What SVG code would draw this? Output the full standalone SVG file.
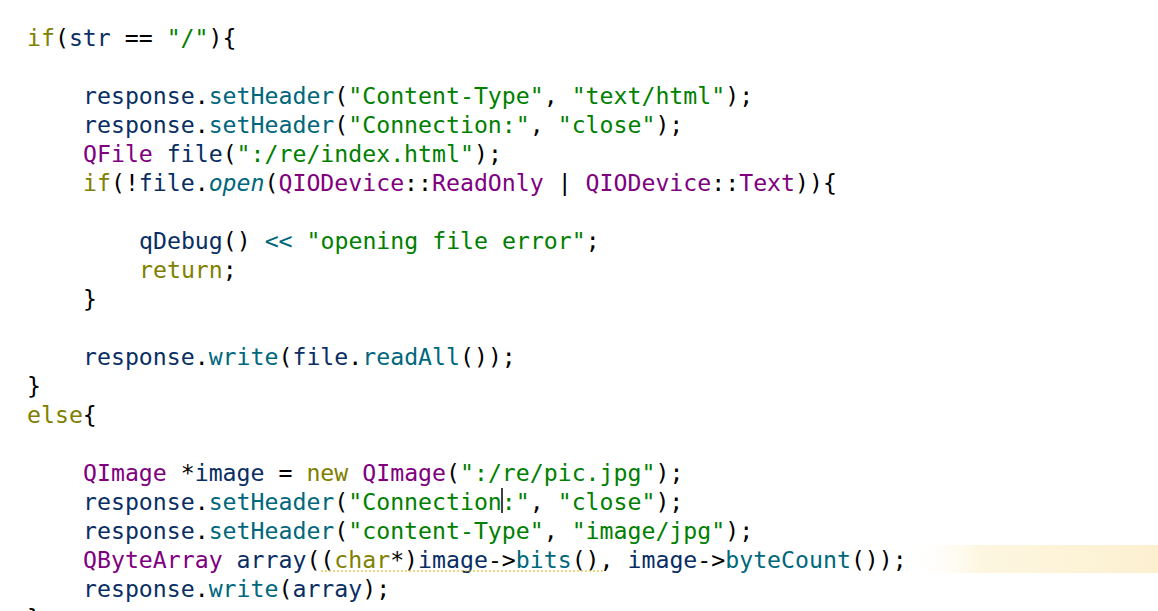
<svg xmlns="http://www.w3.org/2000/svg" width="1158" height="611" viewBox="0 0 1158 611">
<style>
text{font-family:"DejaVu Sans Mono","Liberation Mono",monospace;font-size:23.2px;fill:#000;white-space:pre}
.k{fill:#808000}.s{fill:#008000}.t{fill:#800080}.f{fill:#00677c}.v{fill:#092e64}.i{font-style:italic;fill:#00677c}
</style>
<defs><linearGradient id="g" x1="0" x2="1"><stop offset="0" stop-color="#fff" stop-opacity="0"/><stop offset="0.3" stop-color="#fdf6e0"/><stop offset="1" stop-color="#fcf0d0"/></linearGradient></defs>
<rect width="1158" height="611" fill="#fff"/>
<rect x="905" y="545" width="253" height="28" fill="url(#g)"/>
<g id="code">
<text x="27" y="46"><tspan class="k">if</tspan>(<tspan class="v">str</tspan> == <tspan class="s">"/"</tspan>){</text>
<text x="83" y="104"><tspan class="v">response</tspan>.<tspan class="f">setHeader</tspan>(<tspan class="s">"Content-Type"</tspan>, <tspan class="s">"text/html"</tspan>);</text>
<text x="83" y="133"><tspan class="v">response</tspan>.<tspan class="f">setHeader</tspan>(<tspan class="s">"Connection:"</tspan>, <tspan class="s">"close"</tspan>);</text>
<text x="83" y="162"><tspan class="t">QFile</tspan> <tspan class="v">file</tspan>(<tspan class="s">":/re/index.html"</tspan>);</text>
<text x="83" y="191"><tspan class="k">if</tspan>(!<tspan class="v">file</tspan>.<tspan class="i">open</tspan>(<tspan class="t">QIODevice</tspan>::<tspan class="t">ReadOnly</tspan> | <tspan class="t">QIODevice</tspan>::<tspan class="t">Text</tspan>)){</text>
<text x="139" y="249"><tspan class="v">qDebug</tspan>() <tspan class="f">&lt;&lt;</tspan> <tspan class="s">"opening file error"</tspan>;</text>
<text x="139" y="278"><tspan class="k">return</tspan>;</text>
<text x="83" y="307">}</text>
<text x="83" y="365"><tspan class="v">response</tspan>.<tspan class="f">write</tspan>(<tspan class="v">file</tspan>.<tspan class="f">readAll</tspan>());</text>
<text x="27" y="394">}</text>
<text x="27" y="423"><tspan class="k">else</tspan>{</text>
<text x="83" y="481"><tspan class="t">QImage</tspan> *<tspan class="v">image</tspan> = <tspan class="k">new</tspan> <tspan class="t">QImage</tspan>(<tspan class="s">":/re/pic.jpg"</tspan>);</text>
<text x="83" y="510"><tspan class="v">response</tspan>.<tspan class="f">setHeader</tspan>(<tspan class="s">"Connection:"</tspan>, <tspan class="s">"close"</tspan>);</text>
<text x="83" y="539"><tspan class="v">response</tspan>.<tspan class="f">setHeader</tspan>(<tspan class="s">"content-Type"</tspan>, <tspan class="s">"image/jpg"</tspan>);</text>
<text x="83" y="568"><tspan class="t">QByteArray</tspan> <tspan class="v">array</tspan>((<tspan class="k">char</tspan>*)<tspan class="v">image</tspan>-&gt;<tspan class="f">bits</tspan>(), <tspan class="v">image</tspan>-&gt;<tspan class="f">byteCount</tspan>());</text>
<text x="83" y="597"><tspan class="v">response</tspan>.<tspan class="f">write</tspan>(<tspan class="v">array</tspan>);</text>
<text x="27" y="626">}</text>
</g>
<line x1="502" y1="488" x2="502" y2="513" stroke="#000" stroke-width="1.5"/>
<path d="M321 571 H604" stroke="#e0b000" stroke-width="1" stroke-dasharray="2,2" fill="none"/>
</svg>
